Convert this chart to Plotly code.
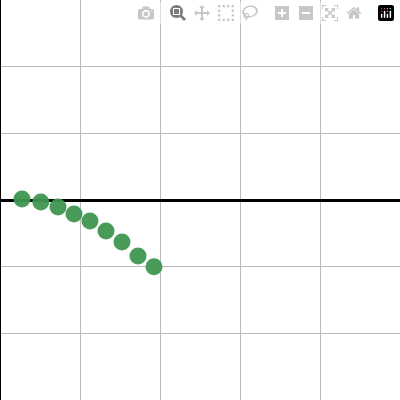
import plotly.graph_objects as go

x_vals = [0.275, 0.51, 0.725, 0.925, 1.125, 1.325, 1.525, 1.725, 1.925]
y_vals = [0.015, -0.03, -0.105, -0.21, -0.315, -0.465, -0.63, -0.84, -1.0]

fig = go.Figure(go.Scatter(
    x=x_vals, y=y_vals, mode="markers",
    marker=dict(size=17, color="#3f9650", opacity=0.95),
))

fig.update_layout(
    width=400, height=400,
    margin=dict(l=0, r=0, t=0, b=0),
    plot_bgcolor="#fff", paper_bgcolor="#fff",
    showlegend=False,
)
fig.update_xaxes(range=[0, 5], dtick=1, showgrid=True, gridcolor="#bbb",
                 zeroline=True, zerolinecolor="#000", zerolinewidth=2,
                 showticklabels=False)
fig.update_yaxes(range=[-3, 3], dtick=1, showgrid=True, gridcolor="#bbb",
                 zeroline=True, zerolinecolor="#000", zerolinewidth=3,
                 showticklabels=False)

fig.write_html("out.html", post_script="document.body.style.margin='0';")
